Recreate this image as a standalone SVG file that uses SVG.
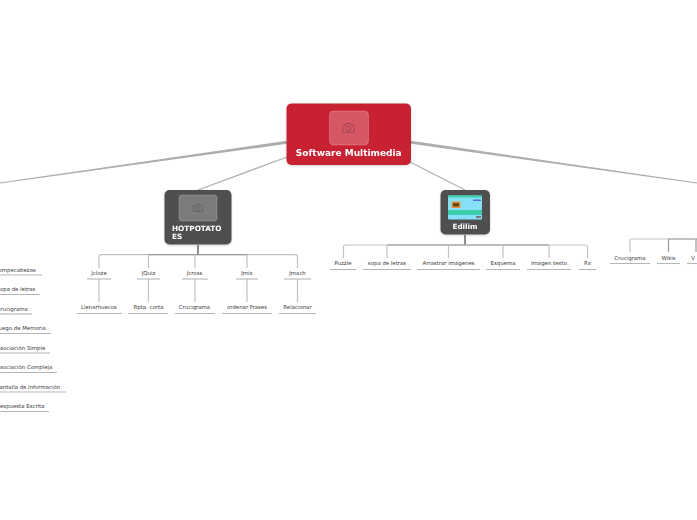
<svg xmlns="http://www.w3.org/2000/svg" width="697" height="520" viewBox="0 0 697 520">
<defs><filter id="s" x="-10%" y="-10%" width="120%" height="125%"><feDropShadow dx="0" dy="1" stdDeviation="1" flood-color="#000" flood-opacity=".18"/></filter></defs>
<style>
text{font-family:"DejaVu Sans",Verdana,sans-serif}
.l{font-size:5.4px;fill:#3a3a3a;text-anchor:middle}
.ll{font-size:5.4px;fill:#3a3a3a}
.t{font-weight:bold;font-size:9px;fill:#fff}
.u{stroke:#b5b5b5;stroke-width:1.100;fill:none}
.d{stroke:#9a9a9a;stroke-width:1.200;fill:none}
.m{stroke:#c2c2c2;stroke-width:1.200;fill:none}
.ph{fill:#fff;fill-opacity:.25;stroke:#fff;stroke-opacity:.2}
.cam{fill:none;stroke:#000;stroke-opacity:.28;stroke-width:1}
.n{filter:url(#s)}
</style>
<rect width="697" height="520" fill="#fff"/>
<g id="connectors">
<polygon points="287,140.800 287,143.800 0,183.600 0,182.600" fill="#adadad"/>
<polygon points="411,140.800 411,143.800 697,183.600 697,182.600" fill="#adadad"/>
<path d="M287 157 L198 190" stroke="#b0b0b0" stroke-width="1.200" fill="none"/>
<path d="M410 162 L465 190" stroke="#b0b0b0" stroke-width="1.200" fill="none"/>
<path d="M198 245 V254.500" stroke="#444" stroke-width="1.200" fill="none"/>
<path class="m" d="M99 268 V257 Q99 254.700 101.500 254.700 H295 Q297.500 254.700 297.500 257 V268"/>
<path class="d" d="M148.500 254.700 H247"/>
<path class="m" d="M148.500 268 V254.700 M195 268 V254.700 M247 268 V254.700"/>
<path class="m" d="M99 279 V302 M148.500 279 V302 M195 279 V302 M247 279 V302 M297.500 279 V302"/>
<path d="M465 235 V245" stroke="#444" stroke-width="1.200" fill="none"/>
<path class="m" d="M343.500 258 V247 Q343.500 245 345.500 245 H585.500 Q587.500 245 587.500 247 V258"/>
<path class="d" d="M387 245 H549"/>
<path class="m" d="M387 258 V245 M448.500 258 V245 M503 258 V245 M549 258 V245"/>
<path class="m" d="M630 252 V241 Q630 239 632 239 H668.500"/>
<path class="d" d="M668.500 239 H697"/>
<path class="d" d="M668.500 252 V239 M696 252 V239"/>
</g>
<g id="root" class="n">
<rect x="286.500" y="103.500" width="124.500" height="61.500" rx="5" fill="#c82033"/>
<rect x="329.500" y="111" width="39" height="34" rx="4" class="ph"/>
<g class="cam" transform="translate(348.500 128) scale(.85) translate(-349 -128)"><path d="M343 125 h2 l1 -2 h6 l1 2 h2 q.8 0 .8 1 v6 q0 1 -.8 1 h-12 q-.8 0 -.8 -1 v-6 q0 -1 .8 -1z"/><circle cx="349" cy="128.500" r="2.800"/></g>
<text x="348.700" y="156" text-anchor="middle" class="t">Software Multimedia</text>
</g>
<g id="hotpotatoes" class="n">
<rect x="164.500" y="190" width="67" height="54.500" rx="5" fill="#505050"/>
<rect x="179" y="195" width="38" height="26" rx="3" class="ph"/>
<g class="cam" transform="translate(198 208) scale(.7) translate(-349 -128)"><path d="M343 125 h2 l1 -2 h6 l1 2 h2 q.8 0 .8 1 v6 q0 1 -.8 1 h-12 q-.8 0 -.8 -1 v-6 q0 -1 .8 -1z"/><circle cx="349" cy="128.500" r="2.800"/></g>
<text x="172" y="230.500" class="t" style="font-size:7.300px">HOTPOTATO</text>
<text x="172" y="239" class="t" style="font-size:7.300px">ES</text>
</g>
<g id="edilim" class="n">
<rect x="440.500" y="190" width="49.500" height="44.500" rx="5" fill="#505050"/>
<rect x="448" y="195.500" width="34" height="24" rx="1" fill="#86e0f8"/>
<rect x="448" y="195.500" width="34" height="2" fill="#3ccfa8"/>
<rect x="448" y="210" width="34" height="5" fill="#38cfa8"/>
<rect x="451.500" y="201.500" width="9" height="6.500" fill="#e8923a"/>
<rect x="453" y="203" width="6" height="3.500" fill="#6b4a20"/>
<rect x="473" y="199.500" width="8" height="1.500" fill="#5a6ad0"/>
<rect x="476" y="216" width="5" height="2" fill="#777"/>
<text x="465" y="228.500" text-anchor="middle" class="t" style="font-size:7.200px">Edilim</text>
</g>
<g id="jcloze"><text class="l" x="99" y="274.500">Jcloze</text><path class="u" d="M87 279 H111"/></g>
<g id="jquiz"><text class="l" x="148.500" y="274.500">JQuiz</text><path class="u" d="M137 279 H160"/></g>
<g id="jcross"><text class="l" x="194.500" y="274.500">Jcross</text><path class="u" d="M182 279 H208"/></g>
<g id="jmix"><text class="l" x="247" y="274.500">Jmix</text><path class="u" d="M236 279 H258"/></g>
<g id="jmach"><text class="l" x="297.500" y="274.500">Jmach</text><path class="u" d="M284 279 H311"/></g>
<g id="llenar"><text class="l" x="99" y="309">Llenarhuecos</text><path class="u" d="M77 313.500 H122"/></g>
<g id="rpta"><text class="l" x="148.500" y="309">Rpta. corta</text><path class="u" d="M128 313.500 H168"/></g>
<g id="cruci1"><text class="l" x="194.500" y="309">Crucigrama</text><path class="u" d="M175 313.500 H215"/></g>
<g id="ordenar"><text class="l" x="247" y="309">ordenar Frases</text><path class="u" d="M222 313.500 H272"/></g>
<g id="relacionar"><text class="l" x="297.500" y="309">Relacionar</text><path class="u" d="M279 313.500 H316"/></g>
<g id="puzzle"><text class="l" x="343" y="265">Puzzle</text><path class="u" d="M330 269.500 H356"/></g>
<g id="sopa"><text class="l" x="387" y="265">sopa de letras</text><path class="u" d="M363 269.500 H411"/></g>
<g id="arrastrar"><text class="l" x="448.500" y="265">Arrastrar imágenes</text><path class="u" d="M417 269.500 H480"/></g>
<g id="esquema"><text class="l" x="503" y="265">Esquema</text><path class="u" d="M486 269.500 H520"/></g>
<g id="imagen"><text class="l" x="549" y="265">Imagen texto</text><path class="u" d="M527 269.500 H571"/></g>
<g id="rx"><text class="l" x="587.500" y="265">Rx</text><path class="u" d="M579 269.500 H596"/></g>
<g id="crucigrama2"><text class="l" x="630" y="259.500">Crucigrama</text><path class="u" d="M610 263.500 H650"/></g>
<g id="wikis"><text class="l" x="668.500" y="259.500">Wikis</text><path class="u" d="M657 263.500 H680"/></g>
<g id="v"><text class="l" x="693" y="259.500">V</text><path class="u" d="M687 263.500 H697"/></g>
<g id="left1"><text class="ll" x="-5" y="272">Rompecabezas</text><path class="u" d="M0 275 H42"/></g>
<g id="left2"><text class="ll" x="-3.500" y="291">Sopa de letras</text><path class="u" d="M0 294.500 H40"/></g>
<g id="left3"><text class="ll" x="-3.500" y="311">Crucigrama</text><path class="u" d="M0 314 H32"/></g>
<g id="left4"><text class="ll" x="-3" y="330">Juego de Memoria</text><path class="u" d="M0 333.500 H51"/></g>
<g id="left5"><text class="ll" x="-3.500" y="350">Asociación Simple</text><path class="u" d="M0 353 H50"/></g>
<g id="left6"><text class="ll" x="-3.500" y="369">Asociación Compleja</text><path class="u" d="M0 372.500 H57"/></g>
<g id="left7"><text class="ll" x="-3.500" y="389">Pantalla de Información</text><path class="u" d="M0 392 H66"/></g>
<g id="left8"><text class="ll" x="-3.500" y="408">Respuesta Escrita</text><path class="u" d="M0 411.500 H49"/></g>
</svg>
